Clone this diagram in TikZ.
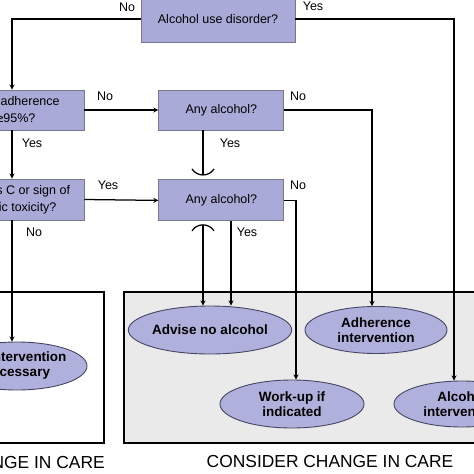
\documentclass[tikz,border=0pt]{standalone}
\usepackage{fontspec}
\setmainfont{Liberation Sans}
\usetikzlibrary{shapes.geometric, arrows, positioning, calc}

\definecolor{boxfill}{RGB}{170,170,216}
\definecolor{boxline}{RGB}{120,120,140}
\definecolor{ovalfill}{RGB}{176,176,220}
\definecolor{ovalline}{RGB}{70,70,100}
\definecolor{zonefill}{RGB}{234,234,234}

\begin{document}
\begin{tikzpicture}[x=1pt, y=-1pt,
    block/.style={rectangle, draw=boxline, fill=boxfill, line width=0.9pt, inner sep=0pt, align=center, font=\fontsize{12.5}{17}\selectfont},
    oval/.style={ellipse, draw=ovalline, fill=ovalfill, line width=0.9pt, inner sep=0pt, align=center, font=\fontsize{13.5}{15}\selectfont\bfseries},
    zone/.style={rectangle, draw=black, line width=1.9pt, inner sep=0pt, minimum height=151pt},
    lbl/.style={font=\fontsize{12.5}{15}\selectfont, inner sep=0pt},
    caption/.style={font=\fontsize{17.4}{20}\selectfont, inner sep=0pt},
    arrow/.style={->, >=stealth, line width=1.25pt},
    wire/.style={line width=1.25pt}
]
    \useasboundingbox (0,0) rectangle (474,474);
    \fill[white] (0,0) rectangle (474,474);
    \clip (0,0) rectangle (474,474);

    % outcome zones
    \node[zone, fill=white, minimum width=124pt] (keep) at (42,367.5) {};
    \node[zone, fill=zonefill, minimum width=366pt] (change) at (307,367.5) {};
    \node[caption, below left=12pt and 0pt of keep.south east] (keeplbl) {NO CHANGE IN CARE};
    \node[caption] (changelbl) at (330,462) {CONSIDER CHANGE IN CARE};

    % decisions
    \node[block, minimum width=154pt, minimum height=46pt] (aud) at (218,19) {Alcohol use disorder?};
    \node[block, minimum width=136pt, minimum height=40pt] (adh) at (16,110) {ART adherence\\≥95\%?};
    \node[block, minimum width=125pt, minimum height=40pt, right=74pt of adh] (any1) {Any alcohol?};
    \node[block, minimum width=144pt, minimum height=41pt] (hep) at (12,199.5) {Hepatitis C or sign of\\hepatic toxicity?};
    \node[block, minimum width=125pt, minimum height=41pt, below=49pt of any1] (any2) {Any alcohol?};

    % actions
    \node[oval, minimum width=138pt, minimum height=48pt] (nochg) at (17,366) {No intervention\\necessary};
    \node[oval, minimum width=144pt, minimum height=48pt] (advise) at (210,330) {Advise no alcohol};
    \node[oval, minimum width=142pt, minimum height=47pt] (adhint) at (376,330) {Adherence\\intervention};
    \node[oval, minimum width=144pt, minimum height=48pt] (workup) at (292,404) {Work-up if\\indicated};
    \node[oval, minimum width=136pt, minimum height=46pt] (alcint) at (462,404) {Alcohol\\intervention};

    % columns of the vertical runs
    \coordinate (colL) at (12,0);
    \coordinate (colM) at (203,0);
    \coordinate (colY) at (231,0);
    \coordinate (colW) at (296,0);
    \coordinate (colA) at (372,0);
    \coordinate (colR) at (454,0);

    \draw[arrow] (aud.west) -| (colL |- adh.north);
    \draw[arrow] (aud.east) -| (colR |- alcint.north);
    \draw[arrow] (adh.east) -- (any1.west);
    \draw[arrow] (any1.east) -| (colA |- adhint.north);
    \draw[arrow] (colL |- adh.south) -- (colL |- hep.north);
    \draw[arrow] (colL |- hep.south) -- (colL |- nochg.north);
    \draw[arrow] (hep.east) -- (any2.west);
    \draw[arrow] (colY |- any2.south) -- (colY |- advise.north);
    \draw[arrow] (any2.east) -| (colW |- workup.north);

    % jump behind the second box
    \coordinate (hopU) at ($(colM |- any2.north)+(0,-4.5)$);
    \coordinate (hopD) at ($(colM |- any2.south)+(0,3.5)$);
    \draw[wire] (colM |- any1.south) -- (hopU);
    \draw[wire] ($(hopU)+(-11,-6)$) .. controls ($(hopU)+(-6,2)$) and ($(hopU)+(6,2)$) .. ($(hopU)+(11,-6)$);
    \draw[wire] ($(hopD)+(-11,6)$) .. controls ($(hopD)+(-6,-2)$) and ($(hopD)+(6,-2)$) .. ($(hopD)+(11,6)$);
    \draw[arrow] (hopD) -- (colM |- advise.north);

    % branch labels
    \node[lbl] (no1) at (127,7) {No};
    \node[lbl] (yes1) at (313,6) {Yes};
    \node[lbl] (no2) at (105,96) {No};
    \node[lbl] (no3) at (298,96) {No};
    \node[lbl] (yes2) at (32,143) {Yes};
    \node[lbl] (yes3) at (230,143) {Yes};
    \node[lbl] (yes4) at (108,185) {Yes};
    \node[lbl] (no4) at (298,185) {No};
    \node[lbl] (no5) at (34,232) {No};
    \node[lbl] (yes5) at (247,232) {Yes};
\end{tikzpicture}
\end{document}
